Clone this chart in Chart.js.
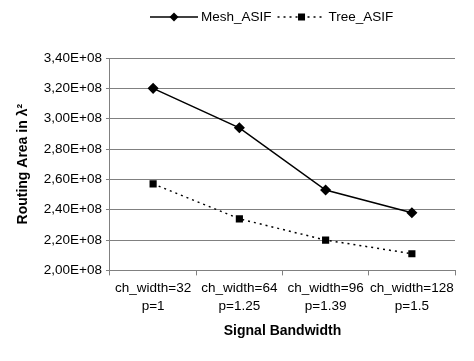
<!DOCTYPE html>
<html>
<head>
<meta charset="utf-8">
<script src="https://cdn.jsdelivr.net/npm/chart.js@4"></script>
<style>
  html, body { margin: 0; padding: 0; background: #fff; }
  #wrap { width: 474px; height: 361px; }
</style>
</head>
<body>
<div id="wrap"><canvas id="c" width="474" height="361"></canvas></div>
<script>
const categories = [
  ["ch_width=32", "p=1"],
  ["ch_width=64", "p=1.25"],
  ["ch_width=96", "p=1.39"],
  ["ch_width=128", "p=1.5"]
];
const meshASIF = [3.20e8, 2.94e8, 2.53e8, 2.38e8];
const treeASIF = [2.57e8, 2.34e8, 2.20e8, 2.11e8];
const yMin = 2.0e8, yMax = 3.4e8, yStep = 0.2e8;

const FONT = "'Liberation Sans', Arial, sans-serif";

// legend drawn by hand: line + marker + name, like the spreadsheet legend
const lineLegend = {
  id: "lineLegend",
  afterDraw(chart) {
    const ctx = chart.ctx;
    const y = 17;
    let x = 150;
    ctx.save();
    ctx.font = "13.5px " + FONT;
    ctx.textBaseline = "middle";
    chart.data.datasets.forEach(ds => {
      ctx.strokeStyle = "#000";
      ctx.lineWidth = 1.5;
      ctx.setLineDash(ds.borderDash || []);
      ctx.beginPath();
      ctx.moveTo(x, y);
      ctx.lineTo(x + 48, y);
      ctx.stroke();
      ctx.setLineDash([]);
      ctx.fillStyle = "#000";
      const cx = x + 24;
      if (ds.pointStyle === "rectRot") {
        ctx.beginPath();
        ctx.moveTo(cx, y - 4.5);
        ctx.lineTo(cx + 4.5, y);
        ctx.lineTo(cx, y + 4.5);
        ctx.lineTo(cx - 4.5, y);
        ctx.closePath();
        ctx.fill();
      } else {
        ctx.fillRect(cx - 3.5, y - 3.5, 7, 7);
      }
      ctx.fillText(ds.label, x + 51, y);
      x += 51 + ctx.measureText(ds.label).width + 6;
    });
    ctx.restore();
  }
};

new Chart(document.getElementById("c"), {
  type: "line",
  data: {
    labels: categories,
    datasets: [
      {
        label: "Mesh_ASIF",
        data: meshASIF,
        borderColor: "#000",
        backgroundColor: "#000",
        borderWidth: 1.5,
        pointStyle: "rectRot",
        pointRadius: 4.5,
        tension: 0
      },
      {
        label: "Tree_ASIF",
        data: treeASIF,
        borderColor: "#000",
        backgroundColor: "#000",
        borderWidth: 1.5,
        borderDash: [2, 4],
        pointStyle: "rect",
        pointRadius: 4,
        tension: 0
      }
    ]
  },
  options: {
    responsive: false,
    animation: false,
    layout: { padding: { top: 58, right: 19, bottom: 17, left: 11 } },
    plugins: {
      legend: { display: false },
      tooltip: { enabled: false }
    },
    scales: {
      x: {
        offset: true,
        grid: {
          offset: true,
          drawOnChartArea: false,
          drawTicks: true,
          tickLength: 5,
          color: "#808080"
        },
        border: { display: true, color: "#808080" },
        ticks: {
          color: "#000",
          font: { family: FONT, size: 13.5, lineHeight: 1.4 },
          maxRotation: 0,
          autoSkip: false,
          padding: 3
        },
        title: {
          display: true,
          text: "Signal Bandwidth",
          color: "#000",
          font: { family: FONT, size: 14, weight: "bold" },
          padding: { top: 4 }
        }
      },
      y: {
        min: yMin,
        max: yMax,
        grid: {
          color: "#808080",
          tickLength: 4,
          drawTicks: true
        },
        border: { display: true, color: "#808080" },
        ticks: {
          stepSize: yStep,
          color: "#000",
          font: { family: FONT, size: 13.5 },
          padding: 4,
          callback: v => (v / 1e8).toFixed(2).replace(".", ",") + "E+08"
        },
        title: {
          display: true,
          text: "Routing Area in \u03bb\u00b2",
          color: "#000",
          font: { family: FONT, size: 14, weight: "bold" },
          padding: { bottom: 8 }
        }
      }
    }
  },
  plugins: [lineLegend]
});
</script>
</body>
</html>
